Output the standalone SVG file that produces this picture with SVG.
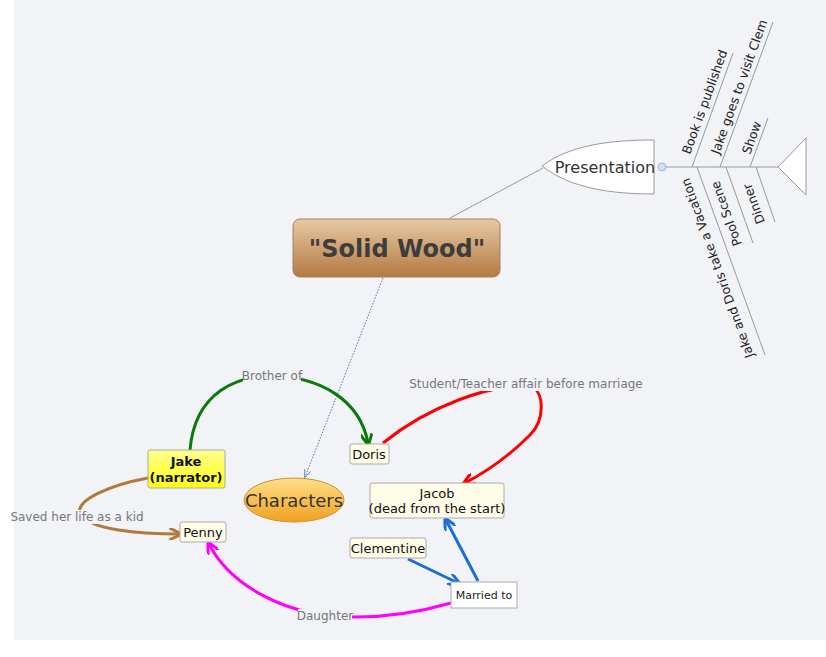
<svg xmlns="http://www.w3.org/2000/svg" width="826" height="657" viewBox="0 0 826 657">
<style>
text{font-family:"DejaVu Sans","Liberation Sans",sans-serif}
.lbl{font-size:12px;fill:#777;text-anchor:middle}
.fb{font-size:12.5px;fill:#222}
.bone{stroke:#999;stroke-width:1;fill:none}
.node{stroke:#aaa;stroke-width:1}
.nt{font-size:13px;fill:#111;text-anchor:middle}
</style>
<defs>
<linearGradient id="wood" x1="0" y1="0" x2="0" y2="1"><stop offset="0" stop-color="#e6c9a4"/><stop offset="1" stop-color="#b47a42"/></linearGradient>
<linearGradient id="orange" x1="0" y1="0" x2="0" y2="1"><stop offset="0" stop-color="#fde08a"/><stop offset="1" stop-color="#f0a020"/></linearGradient>
<linearGradient id="yellow" x1="0" y1="0" x2="0" y2="1"><stop offset="0" stop-color="#ffff90"/><stop offset="1" stop-color="#ffff10"/></linearGradient>
<marker id="ag" viewBox="0 0 10 10" refX="8" refY="5" markerWidth="4" markerHeight="4" orient="auto"><path d="M0,0L10,5L0,10" fill="none" stroke="#0a7a0a" stroke-width="2.5"/></marker>
<marker id="ar" viewBox="0 0 10 10" refX="8" refY="5" markerWidth="4" markerHeight="4" orient="auto"><path d="M0,0L10,5L0,10" fill="none" stroke="#f00" stroke-width="2.5"/></marker>
<marker id="ab" viewBox="0 0 10 10" refX="8" refY="5" markerWidth="4" markerHeight="4" orient="auto"><path d="M0,0L10,5L0,10" fill="none" stroke="#b07a3a" stroke-width="2.5"/></marker>
<marker id="am" viewBox="0 0 10 10" refX="8" refY="5" markerWidth="4" markerHeight="4" orient="auto"><path d="M0,0L10,5L0,10" fill="none" stroke="#f0f" stroke-width="2.5"/></marker>
<marker id="au" viewBox="0 0 10 10" refX="8" refY="5" markerWidth="4" markerHeight="4" orient="auto"><path d="M0,0L10,5L0,10" fill="none" stroke="#1a6fd0" stroke-width="2.5"/></marker>
<marker id="ad" viewBox="0 0 10 10" refX="9" refY="5" markerWidth="8" markerHeight="8" orient="auto"><path d="M0,1L10,5L0,9" fill="none" stroke="#4a7ab0" stroke-width="1"/></marker>
</defs>
<rect width="826" height="657" fill="#fff"/>
<rect x="14" y="0" width="812" height="640" fill="#f1f3f7"/>
<g id="connectors">
<line x1="543" y1="168" x2="450" y2="218" stroke="#999"/>
<line x1="383" y1="278" x2="305" y2="477" stroke="#4a7ab0" stroke-dasharray="1.5,1.5" marker-end="url(#ad)"/>
<path d="M190,450 C195,390 240,376 270,376 C320,376 360,400 368,443" fill="none" stroke="#0a7a0a" stroke-width="3" marker-end="url(#ag)"/>
<path d="M383,443 C430,405 490,385 530,385 C545,392 545,420 530,435 C510,455 490,470 465,483" fill="none" stroke="#f00" stroke-width="3" marker-end="url(#ar)"/>
<path d="M148,478 C110,485 75,500 80,514 C90,530 140,534 179,534" fill="none" stroke="#b07a3a" stroke-width="3" marker-end="url(#ab)"/>
<path d="M451,603 C420,612 380,620 330,616 C280,610 230,585 209,544" fill="none" stroke="#f0f" stroke-width="3" marker-end="url(#am)"/>
<line x1="408" y1="559" x2="458" y2="583" stroke="#1a6fd0" stroke-width="3" marker-end="url(#au)"/>
<line x1="478" y1="581" x2="446" y2="520" stroke="#1a6fd0" stroke-width="3" marker-end="url(#au)"/>
<rect x="243" y="369" width="58" height="14" fill="#f1f3f7"/>
<text class="lbl" x="272" y="380">Brother of</text>
<rect x="418" y="377" width="216" height="14" fill="#f1f3f7"/>
<text class="lbl" x="526" y="388">Student/Teacher affair before marriage</text>
<rect x="16" y="510" width="122" height="14" fill="#f1f3f7"/>
<text class="lbl" x="77" y="521">Saved her life as a kid</text>
<rect x="298" y="609" width="54" height="14" fill="#f1f3f7"/>
<text class="lbl" x="325" y="620">Daughter</text>
</g>
<g id="fishbone">
<line class="bone" x1="660" y1="167" x2="778" y2="167"/>
<polygon points="778,167 806,138 806,195" fill="#fff" stroke="#999"/>
<line class="bone" x1="692" y1="167" x2="733" y2="53"/>
<line class="bone" x1="720" y1="167" x2="773" y2="22"/>
<line class="bone" x1="750" y1="167" x2="768" y2="118"/>
<line class="bone" x1="697" y1="167" x2="765" y2="355"/>
<line class="bone" x1="726" y1="167" x2="753" y2="243"/>
<line class="bone" x1="756" y1="167" x2="775" y2="222"/>
<text class="fb" transform="translate(690,155) rotate(-70)">Book is published</text>
<text class="fb" transform="translate(719,155) rotate(-70)">Jake goes to visit Clem</text>
<text class="fb" transform="translate(750,155) rotate(-70)">Show</text>
<text class="fb" transform="translate(754,356) rotate(-110)">Jake and Doris take a Vacation</text>
<text class="fb" transform="translate(742,244) rotate(-110)">Pool Scene</text>
<text class="fb" transform="translate(765,222) rotate(-110)">Dinner</text>
</g>
<g id="presentation">
<path d="M542,166 C570,145 610,140 654,140 L654,194 C610,194 570,188 542,166 Z" fill="#fff" stroke="#999"/>
<text x="605" y="173" font-size="16" fill="#333" text-anchor="middle">Presentation</text>
<circle cx="662" cy="167" r="4" fill="#cfe0f4" stroke="#9bb8dc"/>
</g>
<g id="solidwood">
<rect x="293" y="219" width="207" height="58" rx="7" fill="url(#wood)" stroke="#a08060"/>
<text x="397" y="257" font-size="24" font-weight="bold" fill="#3d3d3d" text-anchor="middle">"Solid Wood"</text>
</g>
<g id="characters">
<ellipse cx="294" cy="500" rx="50" ry="22" fill="url(#orange)" stroke="#d09030"/>
<text x="294" y="507" font-size="18" fill="#333" text-anchor="middle">Characters</text>
</g>
<g id="jake">
<rect x="148" y="450" width="77" height="38" rx="2" fill="url(#yellow)" class="node"/>
<text class="nt" x="186" y="466" font-weight="bold">Jake</text>
<text class="nt" x="186" y="482" font-weight="bold">(narrator)</text>
</g>
<g id="penny"><rect x="180" y="522" width="46" height="20" rx="2" fill="#fffde8" class="node"/><text class="nt" x="203" y="537">Penny</text></g>
<g id="doris"><rect x="350" y="444" width="39" height="20" rx="2" fill="#fffde8" class="node"/><text class="nt" x="369" y="459">Doris</text></g>
<g id="jacob"><rect x="370" y="483" width="134" height="35" rx="2" fill="#fffde8" class="node"/><text class="nt" x="437" y="498">Jacob</text><text class="nt" x="437" y="513">(dead from the start)</text></g>
<g id="clementine"><rect x="350" y="538" width="76" height="20" rx="2" fill="#fffde8" class="node"/><text class="nt" x="388" y="553">Clementine</text></g>
<g id="married"><rect x="451" y="582" width="66" height="26" fill="#fff" class="node"/><text x="484" y="599" font-size="11" fill="#222" text-anchor="middle">Married to</text></g>
</svg>
